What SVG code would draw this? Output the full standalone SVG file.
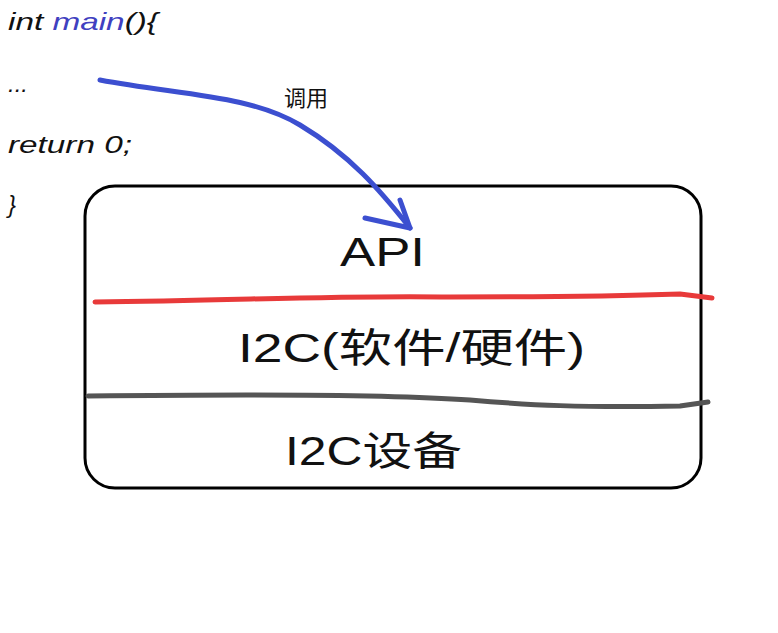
<svg xmlns="http://www.w3.org/2000/svg" width="778" height="633" viewBox="0 0 778 633">
<style>
.code{font-family:"Liberation Sans","Noto Sans CJK SC",sans-serif;font-style:italic;font-size:24px;fill:#111}
.big{font-family:"Liberation Sans","Noto Sans CJK SC",sans-serif;font-size:40px;fill:#111}
.stroke{fill:none;stroke-linecap:round;stroke-linejoin:round}
</style>
<rect width="778" height="633" fill="#fff"/>
<g id="code">
<text class="code" x="8" y="30" textLength="150" lengthAdjust="spacingAndGlyphs">int <tspan fill="#4040c0">main</tspan>(){</text>
<text class="code" x="8" y="92">...</text>
<text class="code" x="8" y="153" textLength="124" lengthAdjust="spacingAndGlyphs">return 0;</text>
<text class="code" x="8" y="213">}</text>
</g>
<g id="box">
<rect x="85" y="186" width="616" height="302" rx="30" fill="none" stroke="#000" stroke-width="3"/>
<text class="big" x="340" y="266" textLength="85" lengthAdjust="spacingAndGlyphs">API</text>
<text class="big" x="238" y="362" textLength="347" lengthAdjust="spacingAndGlyphs">I2C(软件/硬件)</text>
<text class="big" x="285" y="465" textLength="177" lengthAdjust="spacingAndGlyphs">I2C设备</text>
</g>
<g id="connectors">
<path class="stroke" d="M100 80 C180 95 250 95 300 125 C350 155 380 190 410 228" stroke="#3c4fd0" stroke-width="5"/>
<path class="stroke" d="M365 218 L410 228 M400 200 L410 228" stroke="#3c4fd0" stroke-width="5"/>
<path class="stroke" d="M95 302 C250 300 350 295 450 297 C550 297 650 295 680 294 L712 298" stroke="#e83a3a" stroke-width="5"/>
<path class="stroke" d="M88 396 C250 394 400 395 470 400 C530 405 580 408 680 406 L708 402" stroke="#555" stroke-width="5"/>
<text x="284" y="106" font-family="Noto Sans CJK SC,sans-serif" font-size="22" fill="#111">调用</text>
</g>
</svg>
